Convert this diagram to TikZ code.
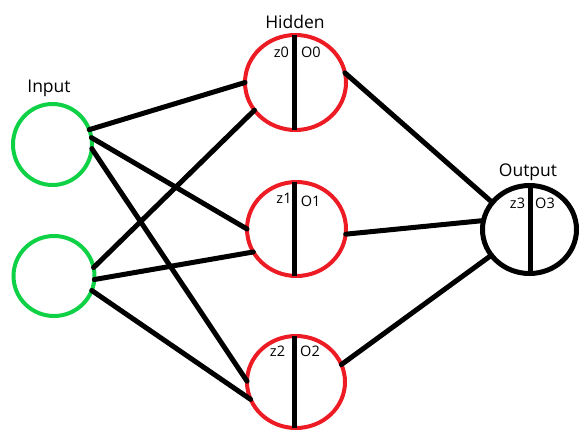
\documentclass[tikz,border=0pt]{standalone}
\usepackage{fontspec}
\setmainfont{Open Sans}
\usetikzlibrary{shapes.geometric}
\definecolor{pgreen}{RGB}{14,209,69}
\definecolor{pred}{RGB}{237,28,36}
\tikzset{
  neuron/.style={ellipse, draw, line width=4pt, inner sep=0pt, outer sep=0pt},
  innode/.style={neuron, draw=pgreen},
  hidnode/.style={neuron, draw=pred},
  outnode/.style={neuron, draw=black, line width=5pt},
  conn/.style={line width=5pt, line cap=round},
  divider/.style={line width=5pt},
  big/.style={font=\fontsize{17.5}{20}\selectfont, anchor=base, inner sep=0pt},
  small/.style={font=\fontsize{14.5}{17}\selectfont, anchor=base, inner sep=0pt}
}
\begin{document}
\begin{tikzpicture}[x=1pt,y=-1pt]
\useasboundingbox (0,0) rectangle (586,439);
% nodes
\node[innode, minimum width=79pt, minimum height=81pt] (i1) at (52.5,144.5) {};
\node[innode, minimum width=81pt, minimum height=80pt] (i2) at (54,276) {};
\node[hidnode, minimum width=101pt, minimum height=95pt] (h0) at (295.5,82.5) {};
\node[hidnode, minimum width=99pt, minimum height=94pt] (h1) at (296.5,229) {};
\node[hidnode, minimum width=98pt, minimum height=92pt] (h2) at (296,382) {};
\node[outnode, minimum width=94pt, minimum height=88pt] (out) at (529.5,229.5) {};
% dividers
\draw[divider] ([xshift=-1.5pt]h0.north) -- ([xshift=-1.5pt]h0.south);
\draw[divider] ([xshift=-2.5pt]h1.north) -- ([xshift=-2.5pt]h1.south);
\draw[divider] ([xshift=-2pt]h2.north) -- ([xshift=-2pt]h2.south);
\draw[divider] ([xshift=0.5pt]out.north) -- ([xshift=0.5pt]out.south);
% connectors
\draw[conn] (i1.22) -- (h0.180);
\draw[conn] (i1.10) -- (h1.180);
\draw[conn] (i1.-6) -- (h2.179);
\draw[conn] (i2.12) -- (h0.-146);
\draw[conn] (i2.-5) -- (h1.208);
\draw[conn] (i2.-21) -- (h2.201);
\draw[conn] (h0.11) -- (out.144);
\draw[conn] (h1.-6) -- (out.169);
\draw[conn] (h2.21) -- (out.214);
% labels
\node[big] (linput) at (49,92.3) {Input};
\node[big] (lhidden) at (295,28.3) {Hidden};
\node[big] (loutput) at (528,176) {Output};
\node[small] (z0) at (281.3,57.5) {z0};
\node[small] (o0) at (310.8,57.5) {O0};
\node[small] (z1) at (284,203.3) {z1};
\node[small] (o1) at (310.7,206) {O1};
\node[small] (z2) at (277.5,356.5) {z2};
\node[small] (o2) at (310,356.8) {O2};
\node[small] (z3) at (517.5,208) {z3};
\node[small] (o3) at (545,208) {O3};
\end{tikzpicture}
\end{document}
